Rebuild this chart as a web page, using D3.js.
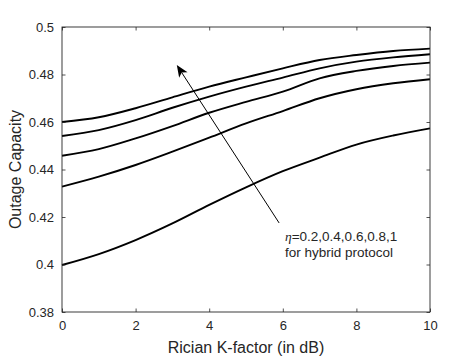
<!DOCTYPE html>
<html>
<head>
<meta charset="utf-8">
<script src="https://cdn.jsdelivr.net/npm/d3@7"></script>
<style>
  html, body { margin: 0; padding: 0; background: #fff; }
  svg { display: block; }
  text { font-family: "Liberation Sans", Arial, Helvetica, sans-serif; fill: #262626; }
</style>
</head>
<body>
<svg id="chart" width="474" height="361"></svg>
<script>
// ---- data ----
const kFactor = [0, 1, 2, 3, 4, 5, 6, 7, 8, 9, 10];
const eta1   = [0.4600, 0.4620, 0.4658, 0.4704, 0.4749, 0.4788, 0.4826, 0.4861, 0.4882, 0.4899, 0.4909];
const eta08  = [0.4541, 0.4566, 0.4608, 0.4660, 0.4707, 0.4749, 0.4787, 0.4826, 0.4854, 0.4872, 0.4885];
const eta06  = [0.4458, 0.4486, 0.4531, 0.4583, 0.4639, 0.4685, 0.4728, 0.4784, 0.4815, 0.4836, 0.4850];
const eta04  = [0.4328, 0.4370, 0.4419, 0.4475, 0.4534, 0.4594, 0.4646, 0.4700, 0.4738, 0.4763, 0.4780];
const eta02  = [0.3998, 0.4044, 0.4103, 0.4173, 0.4251, 0.4325, 0.4393, 0.4450, 0.4505, 0.4543, 0.4573];
const seriesList = [eta1, eta08, eta06, eta04, eta02];
const xTicks = [0, 2, 4, 6, 8, 10];
const yTicks = [0.38, 0.40, 0.42, 0.44, 0.46, 0.48, 0.50];
const xLabel = "Rician K-factor (in dB)";
const yLabel = "Outage Capacity";
const noteLine1 = "=0.2,0.4,0.6,0.8,1";
const noteLine2 = "for hybrid protocol";
// annotation anchor points in data units
const arrowTip = [3.12, 0.4840];
const arrowTail = [5.90, 0.4175];
const noteAt = [6.06, 0.4097];

// ---- layout ----
const margin = {left: 62, top: 27, right: 44, bottom: 49};
const W = 474, H = 361;
const svg = d3.select("#chart");
const x = d3.scaleLinear().domain([0, 10]).range([margin.left, W - margin.right]);
const y = d3.scaleLinear().domain([0.38, 0.5]).range([H - margin.bottom, margin.top]);
const axisColor = "#262626";
const tickLen = 3.5;

// curves
const line = d3.line()
  .x((d, i) => x(kFactor[i]))
  .y(d => y(d))
  .curve(d3.curveCatmullRom.alpha(0.5));
svg.append("g").selectAll("path").data(seriesList).join("path")
  .attr("d", d => line(d))
  .attr("fill", "none")
  .attr("stroke", "#000")
  .attr("stroke-width", 1.9)
  .attr("stroke-linejoin", "round");

// axes
function styleAxis(g) {
  g.select(".domain").remove();
  g.selectAll(".tick line").attr("stroke", axisColor).attr("stroke-width", 0.8);
  g.selectAll(".tick text").attr("font-size", 13).attr("fill", axisColor)
    .style("font-family", "'Liberation Sans', Arial, sans-serif");
}
const fmtY = d => d3.format("")(+d.toFixed(2));
svg.append("g").attr("transform", `translate(0,${y(0.38)})`)
  .call(d3.axisBottom(x).tickValues(xTicks).tickSize(-tickLen).tickPadding(9).tickFormat(d3.format("d")))
  .call(styleAxis);
svg.append("g").attr("transform", `translate(0,${y(0.5)})`)
  .call(d3.axisTop(x).tickValues(xTicks).tickSize(-tickLen).tickFormat(""))
  .call(styleAxis);
svg.append("g").attr("transform", `translate(${x(0)},0)`)
  .call(d3.axisLeft(y).tickValues(yTicks).tickSize(-tickLen).tickPadding(8).tickFormat(fmtY))
  .call(styleAxis);
svg.append("g").attr("transform", `translate(${x(10)},0)`)
  .call(d3.axisRight(y).tickValues(yTicks).tickSize(-tickLen).tickFormat(""))
  .call(styleAxis);

// frame
svg.append("rect")
  .attr("x", x(0)).attr("y", y(0.5))
  .attr("width", x(10) - x(0)).attr("height", y(0.38) - y(0.5))
  .attr("fill", "none").attr("stroke", axisColor).attr("stroke-width", 0.9);

// axis labels
svg.append("text")
  .attr("x", (x(0) + x(10)) / 2).attr("y", 353)
  .attr("text-anchor", "middle").attr("font-size", 16)
  .text(xLabel);
svg.append("text")
  .attr("transform", `translate(21,${(y(0.38) + y(0.5)) / 2}) rotate(-90)`)
  .attr("text-anchor", "middle").attr("font-size", 16)
  .text(yLabel);

// arrow annotation
const tx = x(arrowTail[0]), ty = y(arrowTail[1]);
const hx = x(arrowTip[0]), hy = y(arrowTip[1]);
const ang = Math.atan2(hy - ty, hx - tx);
const headLen = 12, headW = 5;
const bx = hx - headLen * Math.cos(ang), by = hy - headLen * Math.sin(ang);
svg.append("line")
  .attr("x1", tx).attr("y1", ty).attr("x2", bx + 3 * Math.cos(ang)).attr("y2", by + 3 * Math.sin(ang))
  .attr("stroke", "#000").attr("stroke-width", 1);
const px = -Math.sin(ang), py = Math.cos(ang);
const notchX = hx - (headLen * 0.75) * Math.cos(ang), notchY = hy - (headLen * 0.75) * Math.sin(ang);
svg.append("path")
  .attr("d", `M${hx},${hy} L${bx + headW * px},${by + headW * py} L${notchX},${notchY} L${bx - headW * px},${by - headW * py} Z`)
  .attr("fill", "#000");

// note text
const note = svg.append("text")
  .attr("x", x(noteAt[0])).attr("y", y(noteAt[1]))
  .attr("font-size", 13.5);
note.append("tspan").attr("font-style", "italic")
  .style("font-family", "'Liberation Serif', 'Times New Roman', serif").text("η");
note.append("tspan").text(noteLine1);
svg.append("text")
  .attr("x", x(noteAt[0])).attr("y", y(noteAt[1]) + 16)
  .attr("font-size", 13.5)
  .text(noteLine2);
</script>
</body>
</html>
